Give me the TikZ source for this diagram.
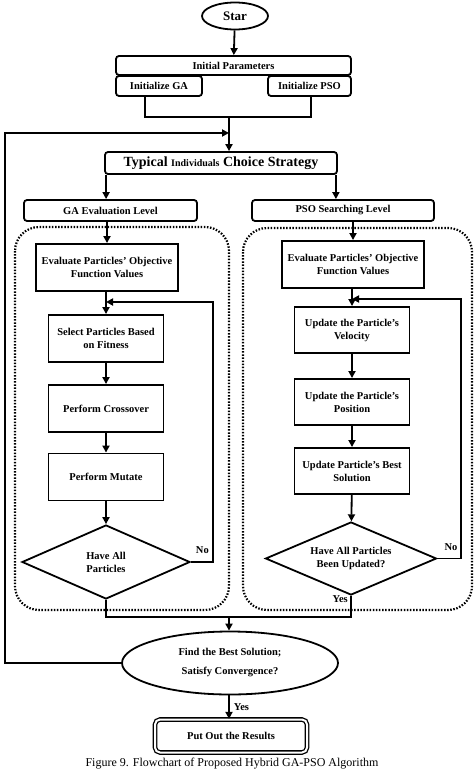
\documentclass[tikz,border=0pt]{standalone}
\usepackage{fontspec}
\setmainfont{Liberation Serif}
\usetikzlibrary{shapes,arrows,positioning,calc,arrows.meta}

\tikzset{
  box/.style={draw, line width=1.9pt, align=center, inner sep=0pt,
    font=\bfseries\fontsize{10.5}{13}\selectfont},
  rbox/.style={box, rounded corners=3pt, line width=1.8pt},
  decide/.style={box, diamond, aspect=2.3, line width=1.8pt},
  oval/.style={box, ellipse, line width=1.8pt},
  dotbox/.style={line width=2.2pt, dash pattern=on 1.5pt off 1.6pt, rounded corners=24pt},
  arr/.style={line width=1.8pt, -{Triangle[length=7pt,width=7pt]}},
  line/.style={line width=1.8pt},
  lbl/.style={font=\bfseries\fontsize{10.5}{12}\selectfont, inner sep=1pt}
}

\begin{document}
\begin{tikzpicture}[x=1pt, y=-1pt]
            \clip (0,0) rectangle (474,770);
            \useasboundingbox (0,0) rectangle (474,770);

            % Start and initialisation
            \node[oval, minimum width=66, minimum height=27, font=\bfseries\fontsize{13}{15}\selectfont] (star) at (235,16) {Star};
            \node[rbox, minimum width=235, minimum height=19] (init) at (233.5,65.5) {Initial Parameters};
            \node[rbox, minimum width=86, minimum height=20] (iga) at (159,86) {Initialize GA};
            \node[rbox, minimum width=83, minimum height=20] (ipso) at (309.5,86) {Initialize PSO};
            \draw[arr] (star) -- (init);

            \coordinate (joinL) at (145,117);
            \coordinate (joinR) at (311,117);
            \coordinate (merge) at (229,117);
            \draw[line] (iga.south -| joinL) -- (joinL) -- (joinR) -- (ipso.south -| joinR);

            % Choice strategy
            \node[rbox, minimum width=232, minimum height=22] (typ) at (221,163)
              {\fontsize{14}{16}\selectfont Typical {\fontsize{10}{12}\selectfont Individuals} Choice Strategy};
            \draw[arr] (merge) -- (typ.north -| merge);

            \node[rbox, minimum width=173, minimum height=21] (gaeval) at (110.5,210.5) {GA Evaluation Level};
            \node[rbox, minimum width=182, minimum height=21] (psoeval) at (343,210.5) {PSO Searching Level};
            \coordinate (typL) at ([xshift=2pt]typ.south west);
            \coordinate (typR) at ([xshift=-2pt]typ.south east);
            \draw[arr] (typL) -- (gaeval.north -| typL);
            \draw[arr] (typR) -- (psoeval.north -| typR);

            % Dotted groups
            \draw[dotbox] (15,227) rectangle (229,610);
            \draw[dotbox] (243,228) rectangle (472,610);

            % GA level
            \node[box, minimum width=142, minimum height=47] (gaobj) at (107,267.5) {Evaluate Particles' Objective\\Function Values};
            \node[box, minimum width=115, minimum height=47] (gasel) at (106,338.5) {Select Particles Based\\on Fitness};
            \node[box, minimum width=115, minimum height=47] (gacross) at (106,408.5) {Perform Crossover};
            \node[box, minimum width=115, minimum height=47] (gamut) at (106,477) {Perform Mutate};
            \node[decide, minimum width=168, minimum height=74] (gadec) at (106,562) {Have All\\Particles};

            \draw[arr] (gaobj.north |- gaeval.south) -- (gaobj.north);
            \draw[arr] (gaobj.south -| gasel.north) -- (gasel.north);
            \draw[arr] (gasel) -- (gacross);
            \draw[arr] (gacross) -- (gamut);
            \draw[arr] (gamut) -- (gadec);

            \coordinate (galoop) at (213,302);
            \draw[arr] (gadec.east) -| (galoop) -- (galoop -| gasel.north);
            \node[lbl, anchor=south east] (gano) at (210,555) {No};

            % PSO level
            \node[box, minimum width=142, minimum height=47] (psoobj) at (353,264.5) {Evaluate Particles' Objective\\Function Values};
            \node[box, minimum width=115, minimum height=46] (psovel) at (352,330) {Update the Particle's\\Velocity};
            \node[box, minimum width=115, minimum height=46] (psopos) at (352,402) {Update the Particle's\\Position};
            \node[box, minimum width=115, minimum height=46] (psobest) at (352,471) {Update Particle's Best\\Solution};
            \node[decide, minimum width=171, minimum height=73] (psodec) at (351,558.5) {Have All Particles\\Been Updated?};

            \draw[arr] (psoobj.north |- psoeval.south) -- (psoobj.north);
            \draw[arr] (psoobj.south -| psovel.north) -- (psovel.north);
            \draw[arr] (psovel) -- (psopos);
            \draw[arr] (psopos) -- (psobest);
            \draw[arr] (psobest) -- (psodec);

            \coordinate (psoloop) at (461,299);
            \draw[arr] (psodec.east) -| (psoloop) -- (psoloop -| psovel.north);
            \node[lbl, anchor=south] (psono) at (451,552) {No};
            \node[lbl, anchor=east] (psoyes) at (349,599) {Yes};

            % Convergence and output
            \coordinate (low) at (229,617);
            \draw[line] (gadec.south) -- (gadec.south |- low) -- (psodec.south |- low) -- (psodec.south);
            \node[oval, minimum width=216, minimum height=63, align=center] (conv) at (230,663)
              {Find the Best Solution;\\[6pt]Satisfy Convergence?};
            \draw[arr] (low) -- (conv.north -| low);

            \coordinate (fbx) at (5,133);
            \coordinate (fbtip) at (229,133);
            \draw[arr] (conv.west) -- (conv.west -| fbx) -- (fbx) -- (fbtip);

            \node[draw, double, line width=1.3pt, double distance=2pt, rounded corners=5pt, align=center,
              minimum width=152, minimum height=33, inner sep=0pt,
              font=\bfseries\fontsize{10.5}{12}\selectfont] (result) at (231,736) {Put Out the Results};
            \coordinate (outx) at (229,0);
            \draw[arr] (conv.south -| outx) -- (result.north -| outx) node[lbl, midway, right=3pt] {Yes};

            \node[anchor=base, font=\fontsize{12}{14}\selectfont] (caption) at (232,766.5)
              {Figure 9. Flowchart of Proposed Hybrid GA-PSO Algorithm};
        \end{tikzpicture}
\end{document}
